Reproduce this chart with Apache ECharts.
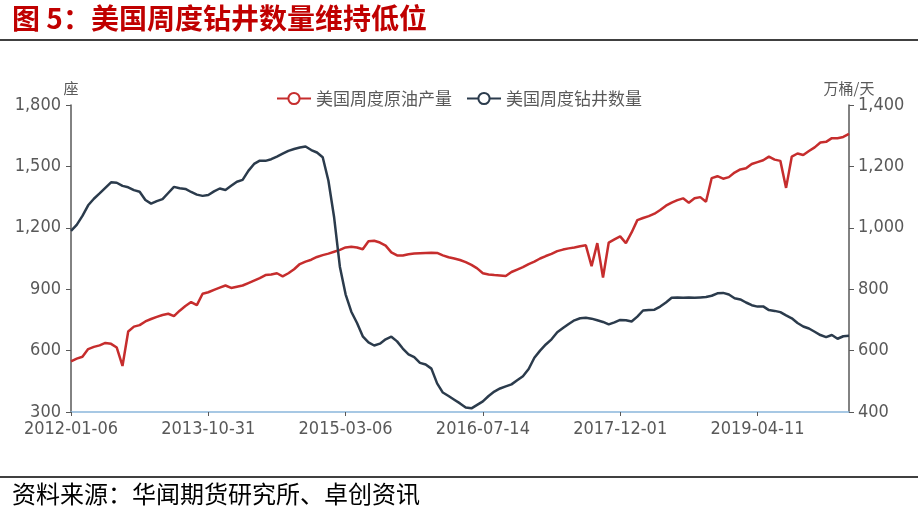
<!DOCTYPE html>
<html>
<head>
<meta charset="utf-8">
<script src="https://cdn.jsdelivr.net/npm/echarts@6/dist/echarts.min.js"></script>
<style>
  html, body { margin: 0; padding: 0; background: #fff; }
  #chart { width: 918px; height: 514px; }
</style>
</head>
<body>
<div id="chart"></div>
<script>
// Weekly series, every third week
const tickLabels = ['2012-01-06', '2013-10-31', '2015-03-06', '2016-07-14', '2017-12-01', '2019-04-11'];
const labelEvery = 24; // points between two date labels

// 美国周度钻井数量 (座, left axis)
const rigCount = [
  1185, 1214, 1258, 1310, 1342, 1368, 1395, 1422, 1420, 1405,
  1398, 1384, 1376, 1336, 1318, 1330, 1340, 1370, 1400, 1393,
  1390, 1375, 1362, 1356, 1360, 1378, 1392, 1385, 1405, 1425,
  1434, 1478, 1512, 1528, 1527, 1535, 1548, 1562, 1576, 1585,
  1592, 1597, 1580, 1568, 1545, 1430, 1250, 1010, 875, 790,
  735, 670, 640, 625, 634, 655, 668, 645, 610, 582,
  568, 540, 532, 512, 440, 395, 378, 360, 342, 322,
  318, 335, 352, 378, 400, 415, 425, 435, 455, 475,
  510, 565, 600, 630, 655, 690, 710, 730, 748, 758,
  760, 756, 748, 740, 728, 738, 750, 748, 742, 766,
  796, 798, 800, 815, 835, 858, 860, 858, 860, 858,
  860, 862, 868, 880, 882, 874, 856, 850, 835, 822,
  815, 816, 798, 794, 788, 772, 758, 735, 718, 708,
  692, 676, 666, 676, 658, 670, 672
];

// 美国周度原油产量 (万桶/天, right axis)
const oilOutput = [
  565, 574, 580, 605, 612, 617, 625, 622, 610, 550,
  662, 678, 683, 695, 703, 710, 716, 720, 712, 730,
  745, 758, 748, 785, 790, 798, 805, 812, 804, 808,
  812, 820, 828, 836, 846, 848, 852, 842, 852, 865,
  882, 890, 896, 905, 911, 916, 922, 928, 936, 938,
  936, 930, 956, 958, 952, 942, 920, 910, 910, 914,
  916, 917, 918, 919, 918, 910, 904, 900, 895, 888,
  879, 868, 852, 848, 846, 845, 843, 856, 864, 872,
  882, 890, 900, 908, 915, 924, 929, 933, 936, 940,
  943, 875, 950, 838, 952, 962, 972, 950, 985, 1025,
  1032, 1038, 1046, 1058, 1072, 1082, 1090, 1096, 1082, 1096,
  1100, 1085, 1162, 1168, 1160, 1165, 1180, 1190, 1194, 1208,
  1214, 1220, 1232, 1222, 1218, 1130, 1232, 1242, 1237, 1250,
  1262, 1278, 1280, 1292, 1292, 1296, 1306
];

const categories = rigCount.map((_, i) => String(i));

const axisFont = 'DejaVu Sans Condensed';
const grey = '#595959';
const withComma = (v) => String(v).replace(/\B(?=(\d{3})+(?!\d))/g, ',');

const chart = echarts.init(document.getElementById('chart'));

chart.setOption({
  animation: false,
  backgroundColor: '#fff',
  graphic: [
    {
      type: 'text', x: 12, y: 18,
      style: {
        text: '图 5：美国周度钻井数量维持低位',
        font: 'bold 28px "Noto Sans CJK SC"',
        fill: '#c00000',
        verticalAlign: 'middle'
      }
    },
    { type: 'line', shape: { x1: 0, y1: 40, x2: 918, y2: 40 }, style: { stroke: '#000', lineWidth: 1.5 } },
    { type: 'line', shape: { x1: 0, y1: 477, x2: 918, y2: 477 }, style: { stroke: '#000', lineWidth: 1.5 } },
    {
      type: 'text', x: 12, y: 494,
      style: {
        text: '资料来源：华闻期货研究所、卓创资讯',
        font: '24px "Noto Sans CJK SC"',
        fill: '#000',
        verticalAlign: 'middle'
      }
    }
  ],
  legend: {
    top: 85,
    left: 'center',
    itemWidth: 34,
    itemHeight: 14,
    itemGap: 14,
    textStyle: { color: grey, fontSize: 17, fontFamily: 'Noto Sans CJK SC' },
    data: ['美国周度原油产量', '美国周度钻井数量']
  },
  grid: { left: 71, right: 69, top: 105, bottom: 102, containLabel: false },
  xAxis: {
    type: 'category',
    boundaryGap: false,
    data: categories,
    axisLine: { lineStyle: { color: '#8ab6dc', width: 1.5 } },
    axisTick: { interval: labelEvery - 1, length: 4, lineStyle: { color: grey } },
    axisLabel: {
      interval: labelEvery - 1,
      margin: 8,
      color: grey,
      fontSize: 18,
      fontFamily: axisFont,
      formatter: (v) => tickLabels[Number(v) / labelEvery] || ''
    },
    splitLine: { show: false }
  },
  yAxis: [
    {
      type: 'value',
      name: '座',
      nameGap: 9,
      nameTextStyle: { color: grey, fontSize: 15, fontFamily: 'Noto Sans CJK SC' },
      min: 300, max: 1800, interval: 300,
      axisLine: { show: true, lineStyle: { color: grey, width: 1.5 } },
      axisTick: { show: true, length: 5, lineStyle: { color: grey } },
      axisLabel: { margin: 10, color: grey, fontSize: 18, fontFamily: axisFont, formatter: withComma },
      splitLine: { show: false }
    },
    {
      type: 'value',
      name: '万桶/天',
      nameGap: 9,
      nameTextStyle: { color: grey, fontSize: 15, fontFamily: 'Noto Sans CJK SC' },
      min: 400, max: 1400, interval: 200,
      position: 'right',
      axisLine: { show: true, lineStyle: { color: grey, width: 1.5 } },
      axisTick: { show: true, length: 5, lineStyle: { color: grey } },
      axisLabel: { margin: 9, color: grey, fontSize: 18, fontFamily: axisFont, formatter: withComma },
      splitLine: { show: false }
    }
  ],
  series: [
    {
      name: '美国周度原油产量',
      type: 'line',
      yAxisIndex: 1,
      data: oilOutput,
      symbol: 'emptyCircle',
      symbolSize: 12,
      showSymbol: false,
      lineStyle: { color: '#c62d2d', width: 2.5 },
      itemStyle: { color: '#c62d2d' }
    },
    {
      name: '美国周度钻井数量',
      type: 'line',
      yAxisIndex: 0,
      data: rigCount,
      symbol: 'emptyCircle',
      symbolSize: 12,
      showSymbol: false,
      lineStyle: { color: '#2b3b4c', width: 2.5 },
      itemStyle: { color: '#2b3b4c' }
    }
  ]
});
</script>
</body>
</html>
